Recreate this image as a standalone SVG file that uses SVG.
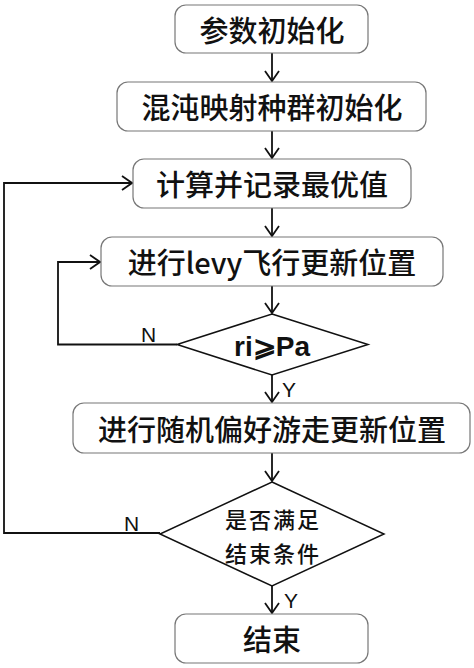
<svg xmlns="http://www.w3.org/2000/svg" width="474" height="668" viewBox="0 0 474 668">
<style>
.box{fill:#fff;stroke:#777;stroke-width:1.2}
.dia{fill:#fff;stroke:#111;stroke-width:1.5}
.t{font-family:"Noto Sans CJK SC","Noto Sans",sans-serif;font-size:29px;font-weight:500;fill:#111;text-anchor:middle;dominant-baseline:central}
.t2{font-family:"Noto Sans CJK SC","Noto Sans",sans-serif;font-size:22px;font-weight:500;letter-spacing:2px;fill:#111;text-anchor:middle;dominant-baseline:central}
.lbl{font-family:"Liberation Sans",sans-serif;font-size:21px;fill:#111}
.c{fill:none;stroke:#111;stroke-width:1.8}
.ah{fill:none;stroke:#111;stroke-width:1.8}
</style>
<defs>
<marker id="arr" viewBox="0 0 12 16" refX="11" refY="8" markerWidth="12" markerHeight="16" markerUnits="userSpaceOnUse" orient="auto">
<path d="M1,1 L11,8 L1,15" class="ah"/>
</marker>
</defs>
<rect width="474" height="668" fill="#fff"/>
<g id="connectors">
<line class="c" x1="272" y1="53" x2="272" y2="81" marker-end="url(#arr)"/>
<line class="c" x1="272" y1="131" x2="272" y2="158" marker-end="url(#arr)"/>
<line class="c" x1="272" y1="208" x2="272" y2="236" marker-end="url(#arr)"/>
<line class="c" x1="272" y1="286" x2="272" y2="313" marker-end="url(#arr)"/>
<line class="c" x1="272" y1="375" x2="272" y2="402" marker-end="url(#arr)"/>
<line class="c" x1="272" y1="453" x2="272" y2="481" marker-end="url(#arr)"/>
<line class="c" x1="272" y1="586" x2="272" y2="613" marker-end="url(#arr)"/>
<polyline class="c" points="177,344.5 58,344.5 58,262 100,262" marker-end="url(#arr)"/>
<polyline class="c" points="160,533 4,533 4,183 132,183" marker-end="url(#arr)"/>
<text class="lbl" x="141" y="342">N</text>
<text class="lbl" x="282" y="397">Y</text>
<text class="lbl" x="124" y="531">N</text>
<text class="lbl" x="284" y="608">Y</text>
</g>
<g id="n1"><rect class="box" x="175" y="5" width="193" height="48" rx="11"/><text class="t" x="272" y="29">参数初始化</text></g>
<g id="n2"><rect class="box" x="117" y="82" width="309" height="49" rx="11"/><text class="t" x="272" y="106">混沌映射种群初始化</text></g>
<g id="n3"><rect class="box" x="133" y="159" width="278" height="49" rx="11"/><text class="t" x="272" y="183">计算并记录最优值</text></g>
<g id="n4"><rect class="box" x="101" y="237" width="342" height="49" rx="11"/><text class="t" x="272" y="261">进行levy飞行更新位置</text></g>
<g id="n5"><polygon class="dia" points="272,314 368,344.5 272,375 177,344.5"/><text class="t" x="272" y="346" style="font-weight:bold;font-size:28px;font-family:'Liberation Sans','Noto Sans CJK SC',sans-serif">ri⩾Pa</text></g>
<g id="n6"><rect class="box" x="73" y="403" width="397" height="50" rx="11"/><text class="t" x="272" y="428">进行随机偏好游走更新位置</text></g>
<g id="n7"><polygon class="dia" points="272,482 384,534 272,586 160,534"/><text class="t2" x="273" y="517.5">是否满足</text><text class="t2" x="273" y="551.5">结束条件</text></g>
<g id="n8"><rect class="box" x="175" y="614" width="193" height="49" rx="11"/><text class="t" x="272" y="638">结束</text></g>
</svg>
